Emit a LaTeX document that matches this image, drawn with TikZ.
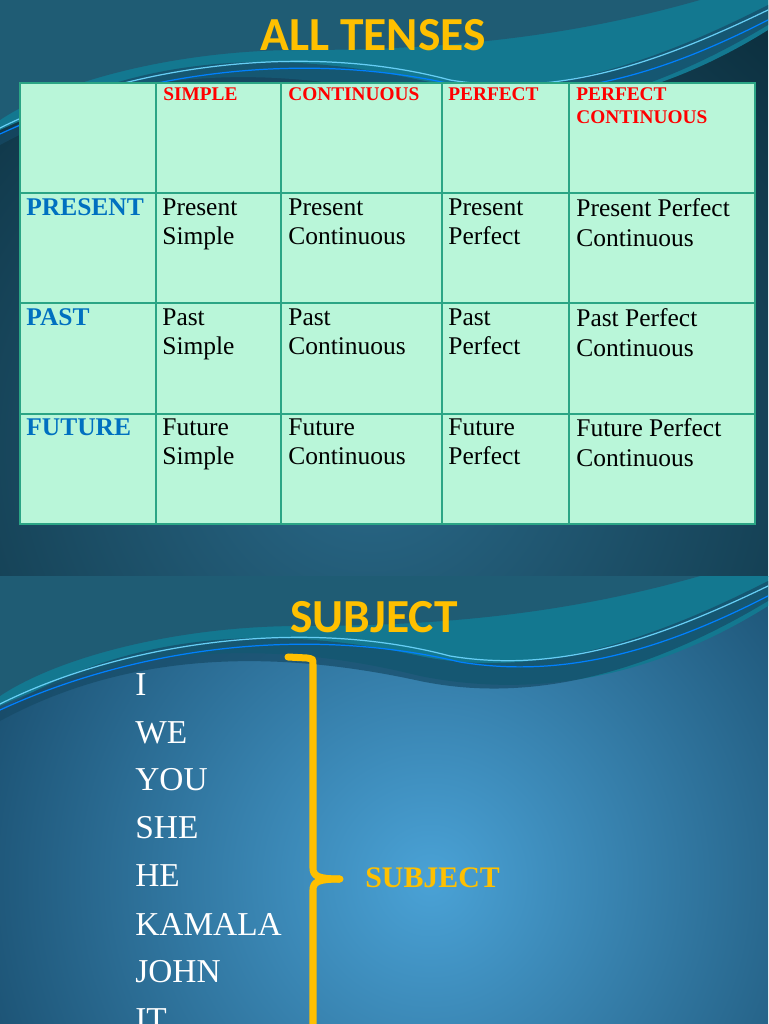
\documentclass[tikz,border=0pt]{standalone}
\usepackage{fontspec}
\setmainfont{Liberation Serif}
\newfontfamily\titlefont{Carlito}
\usetikzlibrary{positioning}
\definecolor{gold}{HTML}{FFC000}
\definecolor{mint}{HTML}{B9F6D9}
\definecolor{gridline}{HTML}{2BA585}
\definecolor{headred}{HTML}{FF0000}
\definecolor{rowblue}{HTML}{0070C0}
\definecolor{slideinner}{HTML}{2A6A8A}
\definecolor{slideouter}{HTML}{0A2C3A}
\definecolor{bluecore}{HTML}{4AA2D6}
\definecolor{blueedge}{HTML}{0F3C58}
\definecolor{wavetop}{HTML}{137890}
\definecolor{waveband}{HTML}{164A66}
\newcommand{\slidewave}{%
  \fill[wavetop] (0,0) -- (768,0) -- (768,30) .. controls (640,110) and (520,120) .. (420,100) .. controls (300,70) and (150,60) .. (0,130) -- cycle;
  \fill[waveband,opacity=0.7] (0,135) .. controls (120,60) and (260,45) .. (420,80) .. controls (540,105) and (660,60) .. (768,5) -- (768,25) .. controls (660,90) and (540,130) .. (420,105) .. controls (260,70) and (120,80) .. (0,145) -- cycle;
  \fill[slideinner!80!black,opacity=0.8] (700,0) .. controls (560,40) and (430,50) .. (300,50) .. controls (180,50) and (60,80) .. (0,120) -- (0,0) -- cycle;
  \draw[cyan!60,line width=0.7pt] (0,128) .. controls (120,68) and (300,40) .. (450,80) .. controls (560,98) and (660,62) .. (768,10);
  \draw[blue!50!cyan,line width=0.7pt] (0,134) .. controls (130,74) and (300,48) .. (460,86) .. controls (570,104) and (670,70) .. (768,20);
}
\begin{document}
\begin{tikzpicture}[x=0.02cm,y=-0.02cm,
  cellbox/.style={anchor=north west,align=left,inner sep=0pt,font=\fontsize{14.5}{16}\selectfont,text=black},
  headbox/.style={anchor=north west,align=left,inner sep=0pt,font=\fontsize{11}{13.5}\selectfont\bfseries,text=headred},
  rowbox/.style={anchor=north west,inner sep=0pt,font=\fontsize{14.5}{17}\selectfont\bfseries,text=rowblue},
  titlebox/.style={font=\titlefont\fontsize{27}{30}\selectfont\bfseries,text=gold},
  subjbox/.style={anchor=west,inner sep=0pt,font=\fontsize{19}{22}\selectfont,text=white}]
\useasboundingbox (0,0) rectangle (768,1024);
% slide one
\begin{scope}
\clip (0,0) rectangle (768,576);
\shade[inner color=slideinner, outer color=slideouter] (-260,-150) rectangle (1000,1050);
\slidewave
\end{scope}
% slide two
\begin{scope}
\clip (0,576) rectangle (768,1024);
\shade[inner color=bluecore, outer color=blueedge] (-170,280) rectangle (1030,1480);
\begin{scope}[yshift=-576*0.02cm]
\slidewave
\end{scope}
\end{scope}
% titles
\node[titlebox] (title1) at (373,35) {ALL TENSES};
\node[titlebox] (title2) at (374,617) {SUBJECT};
% table
\fill[mint] (20,83) rectangle (755,524);
\draw[gridline,line width=0.7pt] (20,83) rectangle (755,524);
\foreach \x in {156,281,442,569} \draw[gridline,line width=0.7pt] (\x,83) -- (\x,524);
\foreach \y in {193,303,414} \draw[gridline,line width=0.7pt] (20,\y) -- (755,\y);
\node[headbox] (hsimple) at (163,87) {SIMPLE};
\node[headbox] (hcont) at (288,87) {CONTINUOUS};
\node[headbox] (hperf) at (448,87) {PERFECT};
\node[headbox] (hpcont) at (576,87) {PERFECT\\CONTINUOUS};
\node[rowbox] (present) at (26,198) {PRESENT};
\node[rowbox] (past) at (26,308) {PAST};
\node[rowbox] (future) at (26,418) {FUTURE};
\foreach \y/\t in {198/Present,308/Past,418/Future} {
  \node[cellbox] at (162,\y) {\t\\[1pt]Simple};
  \node[cellbox] at (288,\y) {\t\\[1pt]Continuous};
  \node[cellbox] at (448,\y) {\t\\[1pt]Perfect};
  \node[cellbox] at (576,\y) {\t{} Perfect\\[1pt]Continuous};
}
% subject list
\foreach \y/\t [count=\i] in {685/I,733/WE,780/YOU,828/SHE,876/HE,924/KAMALA,972/JOHN,1020/IT}
  \node[subjbox] (subj\i) at (135,\y) {\t};
\coordinate (bracetop) at (288,657);
\coordinate (bracetip) at (340,879);
\draw[gold,line width=4pt,line cap=round] (bracetop) -- (307,658) .. controls (313,659) .. (313,665) -- (313,868) .. controls (313,876) and (318,879) .. (bracetip);
\draw[gold,line width=4pt] (bracetip) .. controls (318,879) and (313,882) .. (313,890) -- (313,1030);
\node[anchor=west,inner sep=0pt,font=\fontsize{17}{20}\selectfont\bfseries,text=gold] (subjlabel) at (365,878) {SUBJECT};
\end{tikzpicture}
\end{document}
